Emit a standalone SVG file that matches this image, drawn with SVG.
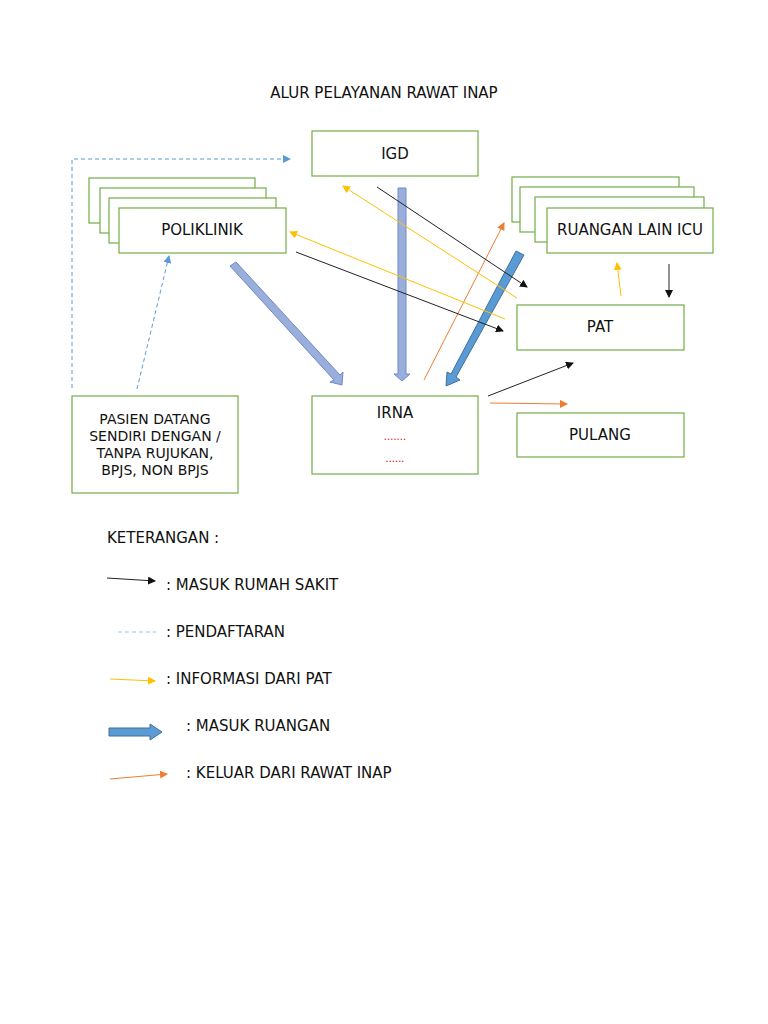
<svg xmlns="http://www.w3.org/2000/svg" width="768" height="1024" viewBox="0 0 768 1024">
<style>
text{font-family:"DejaVu Sans",Verdana,sans-serif;font-size:15px;fill:#111}
.p{font-size:14px}
.b{fill:#fff;stroke:#70ad47;stroke-width:1.2}
.bk{stroke:#222;stroke-width:1;fill:none}
.yl{stroke:#ffc000;stroke-width:1;fill:none}
.or{stroke:#ed7d31;stroke-width:1;fill:none}
.bd{stroke:#5b9bd5;stroke-width:1;fill:none;stroke-dasharray:4,3}
.big1{fill:#9aaedc;stroke:#7189c9;stroke-width:1}
.big2{fill:#5b9bd5;stroke:#41719c;stroke-width:1}
</style>
<defs>
<marker id="mk" markerWidth="8" markerHeight="8" refX="7" refY="4" orient="auto" markerUnits="userSpaceOnUse"><path d="M0,0L8,4L0,8z" fill="#111"/></marker>
<marker id="my" markerWidth="8" markerHeight="8" refX="7" refY="4" orient="auto" markerUnits="userSpaceOnUse"><path d="M0,0L8,4L0,8z" fill="#ffc000"/></marker>
<marker id="mo" markerWidth="8" markerHeight="8" refX="7" refY="4" orient="auto" markerUnits="userSpaceOnUse"><path d="M0,0L8,4L0,8z" fill="#ed7d31"/></marker>
<marker id="mb" markerWidth="8" markerHeight="8" refX="7" refY="4" orient="auto" markerUnits="userSpaceOnUse"><path d="M0,0L8,4L0,8z" fill="#5b9bd5"/></marker>
</defs>
<rect width="768" height="1024" fill="#fff"/>
<text x="384" y="98" text-anchor="middle">ALUR PELAYANAN RAWAT INAP</text>
<g id="igd"><rect class="b" x="312" y="131" width="166" height="45"/><text x="395" y="159" text-anchor="middle">IGD</text></g>
<g id="poliklinik">
<rect class="b" x="89" y="178" width="166" height="45"/><rect class="b" x="100" y="188" width="166" height="45"/><rect class="b" x="109" y="198" width="167" height="45"/><rect class="b" x="119" y="208" width="167" height="45"/>
<text x="202" y="235" text-anchor="middle">POLIKLINIK</text></g>
<g id="ruangan">
<rect class="b" x="512" y="177" width="167" height="45"/><rect class="b" x="520" y="187" width="174" height="45"/><rect class="b" x="535" y="197" width="169" height="45"/><rect class="b" x="547" y="208" width="166" height="45"/>
<text x="630" y="235" text-anchor="middle">RUANGAN LAIN ICU</text></g>
<g id="pat"><rect class="b" x="517" y="305" width="167" height="45"/><text x="600" y="332" text-anchor="middle">PAT</text></g>
<g id="irna"><rect class="b" x="312" y="396" width="166" height="78"/><text x="395" y="418" text-anchor="middle">IRNA</text>
<text x="395" y="440" text-anchor="middle" style="fill:#e00;font-size:10px">.......</text><text x="395" y="462" text-anchor="middle" style="fill:#e00;font-size:10px">......</text></g>
<g id="pulang"><rect class="b" x="517" y="413" width="167" height="44"/><text x="600" y="440" text-anchor="middle">PULANG</text></g>
<g id="pasien"><rect class="b" x="72" y="396" width="166" height="97"/>
<text class="p" x="155" y="424" text-anchor="middle">PASIEN DATANG</text><text class="p" x="155" y="441" text-anchor="middle">SENDIRI DENGAN /</text><text class="p" x="155" y="458" text-anchor="middle">TANPA RUJUKAN,</text><text class="p" x="155" y="475" text-anchor="middle">BPJS, NON BPJS</text></g>
<g id="connectors">
<path class="bd" d="M72,388V159H290" marker-end="url(#mb)"/>
<path class="bd" d="M137,389L169,256" stroke-dasharray="2,2" marker-end="url(#mb)"/>
<path class="big1" d="M236,262L340,375L343,372L342,385L330,382L334,380L230,266z"/>
<path class="big1" d="M398,188H406V374H410L402,381L394,374H398z"/>
<path class="big2" d="M516,251L524,255L456,377L460,380L446,386L447,372L451,374z"/>
<path class="or" d="M424,380L504,223" marker-end="url(#mo)"/>
<path class="bk" d="M377,187L527,287" marker-end="url(#mk)"/>
<path class="bk" d="M296,252L503,331" marker-end="url(#mk)"/>
<path class="bk" d="M488,396L573,363" marker-end="url(#mk)"/>
<path class="bk" d="M669,264V297" marker-end="url(#mk)"/>
<path class="yl" d="M517,298L343,186" marker-end="url(#my)"/>
<path class="yl" d="M505,319L290,232" marker-end="url(#my)"/>
<path class="yl" d="M621,296L617,263" marker-end="url(#my)"/>
<path class="or" d="M490,403L567,404" marker-end="url(#mo)"/>
</g>
<g id="legend">
<text x="107" y="543">KETERANGAN :</text>
<path class="bk" d="M107,578L155,581" marker-end="url(#mk)"/><text x="166" y="590">: MASUK RUMAH SAKIT</text>
<path class="bd" d="M118,632H156" style="stroke:#9dc3e6"/><text x="166" y="637">: PENDAFTARAN</text>
<path class="yl" d="M110,679L155,681" marker-end="url(#my)"/><text x="166" y="684">: INFORMASI DARI PAT</text>
<path class="big2" d="M109,728H150V724L162,732L150,740V736H109z"/><text x="186" y="731">: MASUK RUANGAN</text>
<path class="or" d="M110,779L167,774" marker-end="url(#mo)"/><text x="186" y="778">: KELUAR DARI RAWAT INAP</text>
</g>
</svg>
